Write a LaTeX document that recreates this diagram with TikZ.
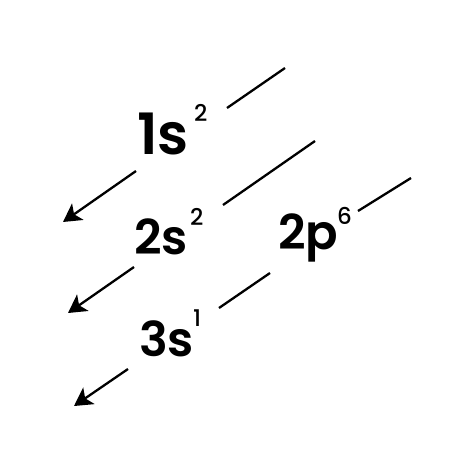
\documentclass[tikz,border=0pt]{standalone}
\usepackage{fontspec}
\setmainfont{Poppins SemiBold}
\newfontfamily\supfont{Poppins Medium}
\usetikzlibrary{arrows.meta}
\begin{document}
\begin{tikzpicture}[x=1pt,y=-1pt,
  seg/.style={line width=2.3pt},
  arr/.style={line width=2.3pt,-{Stealth[length=18pt,width=20pt,inset=4.5pt]}},
  big/.style={inner sep=0pt,anchor=base west,font=\fontsize{48}{48}\selectfont},
  bigger/.style={inner sep=0pt,anchor=base west,font=\fontsize{57}{57}\selectfont},
  sup/.style={inner sep=0pt,anchor=base west,font=\supfont\fontsize{23}{23}\selectfont}]
\useasboundingbox (0,0) rectangle (474,474);
% coordinates
\coordinate (l1a) at (227,108); \coordinate (l1b) at (285,68);
\coordinate (a1s) at (136,171); \coordinate (a1t) at (63,222);
\coordinate (l2a) at (223,205); \coordinate (l2b) at (315,141);
\coordinate (l3a) at (358,211); \coordinate (l3b) at (411,178);
\coordinate (a2s) at (134,267); \coordinate (a2t) at (68,313);
\coordinate (l4a) at (219,308); \coordinate (l4b) at (270,273);
\coordinate (a3s) at (128,369); \coordinate (a3t) at (74,406);
% lines
\draw[seg] (l1a) -- (l1b);
\draw[seg] (l2a) -- (l2b);
\draw[seg] (l3a) -- (l3b);
\draw[seg] (l4a) -- (l4b);
\draw[arr] (a1s) -- (a1t);
\draw[arr] (a2s) -- (a2t);
\draw[arr] (a3s) -- (a3t);
% text
\node[bigger] (t1s) at (137,154) {1s};
\node[sup] (u1s) at (194,121) {2};
\node[big] (t2s) at (134,254) {2s};
\node[sup] (u2s) at (190,225) {2};
\node[big] (t2p) at (278,249) {2p};
\node[sup] (u2p) at (337,224) {6};
\node[big] (t3s) at (139,356) {3s};
\node[sup] (u3s) at (193,326) {1};
\end{tikzpicture}
\end{document}
